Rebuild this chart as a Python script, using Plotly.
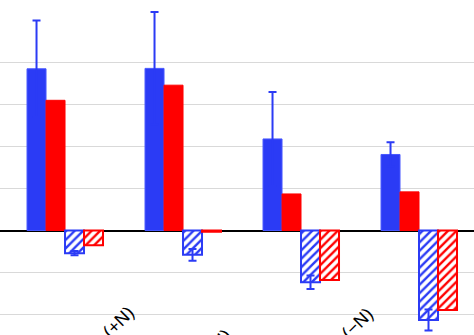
import plotly.graph_objects as go

categories = ["G1", "G2", "G3", "G4"]
tick_labels = ["Treatment (+N)", "Control (+N)", "Treatment (\u2212N)", "Control (\u2212N)"]

blue_solid = [3.85, 3.86, 2.18, 1.81]
blue_solid_err = [1.15, 1.34, 1.12, 0.29]
red_solid = [3.10, 3.46, 0.87, 0.92]
blue_hatched = [-0.54, -0.58, -1.23, -2.13]
blue_hatched_err = [0.05, 0.14, 0.16, 0.25]
red_hatched = [-0.35, -0.03, -1.18, -1.89]

grid_vals = [-2, -1, 0, 1, 2, 3, 4]

BLUE = "#2b3bf5"
RED = "#ff0000"

fig = go.Figure()
fig.add_trace(go.Bar(
    x=categories, y=blue_solid, marker=dict(color=BLUE, line=dict(color="#4858ff", width=1)),
    error_y=dict(type="data", array=blue_solid_err, color=BLUE, thickness=2, width=4),
))
fig.add_trace(go.Bar(
    x=categories, y=red_solid, marker=dict(color=RED, line=dict(color=RED, width=1)),
))
fig.add_trace(go.Bar(
    x=categories, y=blue_hatched,
    marker=dict(color="white", line=dict(color=BLUE, width=2),
                pattern=dict(shape="/", fgcolor=BLUE, bgcolor="white", size=6, solidity=0.4, fillmode="replace")),
    error_y=dict(type="data", array=blue_hatched_err, color=BLUE, thickness=2, width=4),
))
fig.add_trace(go.Bar(
    x=categories, y=red_hatched,
    marker=dict(color="white", line=dict(color=RED, width=2),
                pattern=dict(shape="/", fgcolor=RED, bgcolor="white", size=6, solidity=0.4, fillmode="replace")),
))

# rotated category labels (cut off at the bottom edge)
label_ends = [(0.64, -1.65), (1.47, -2.18), (2.67, -1.68), (3.45, -2.95)]
for txt, (lx, ly) in zip(tick_labels, label_ends):
    fig.add_annotation(x=lx, y=ly, xref="x", yref="y", text=txt, showarrow=False,
                       textangle=-45, xanchor="right", yanchor="top",
                       font=dict(family="Liberation Sans, Arial", size=18, color="black"))

fig.update_layout(
    width=474, height=335, margin=dict(l=0, r=0, t=0, b=0),
    paper_bgcolor="white", plot_bgcolor="white",
    barmode="group", bargap=0.356, bargroupgap=0,
    showlegend=False,
    xaxis=dict(range=[-0.551, 3.466], showticklabels=False, showgrid=False, zeroline=False,
               showline=False, ticks=""),
    yaxis=dict(range=[-2.488, 5.488], tickvals=grid_vals, showticklabels=False,
               showgrid=True, gridcolor="#d9d9d9", gridwidth=1,
               zeroline=True, zerolinecolor="black", zerolinewidth=1.5, showline=False),
)

fig.write_html("out.html")
